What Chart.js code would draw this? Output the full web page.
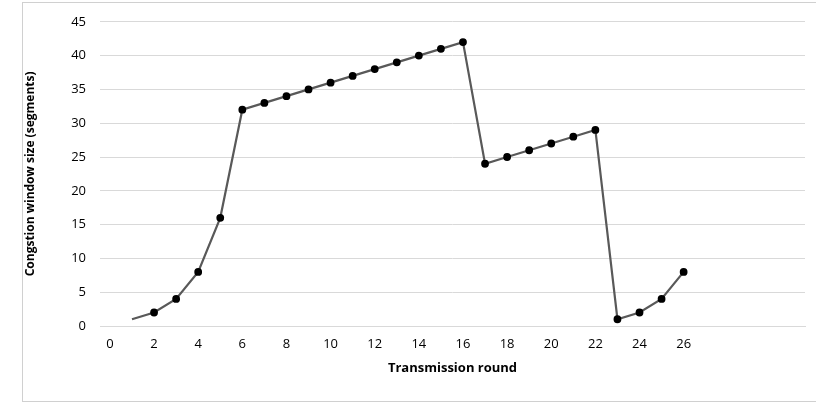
<!DOCTYPE html>
<html><head><meta charset="utf-8">
<script src="https://cdn.jsdelivr.net/npm/chart.js@4"></script>
<style>
html,body{margin:0;padding:0;background:#fff;}
#frame{position:absolute;left:22px;top:2px;width:800px;height:400px;border:1px solid #d0d0d0;box-sizing:border-box;}
#wrap{position:absolute;left:0;top:0;width:816px;height:414px;}
</style></head>
<body>
<div id="frame"></div>
<div id="wrap"><canvas id="c" width="816" height="414"></canvas></div>
<script>
const rounds = [1,2,3,4,5,6,7,8,9,10,11,12,13,14,15,16,17,18,19,20,21,22,23,24,25,26];
const cwnd   = [1,2,4,8,16,32,33,34,35,36,37,38,39,40,41,42,24,25,26,27,28,29,1,2,4,8];
const xTicks = [0,2,4,6,8,10,12,14,16,18,20,22,24,26];
const yTicks = [0,5,10,15,20,25,30,35,40,45];

const font = {family:"'Open Sans', 'Liberation Sans', sans-serif", size:13};
new Chart(document.getElementById('c'), {
  type:'scatter',
  data:{datasets:[{
    data: rounds.map((r,i)=>({x:r,y:cwnd[i]})),
    showLine:true,
    borderColor:'#595959', borderWidth:2.2,
    pointBackgroundColor:'#000', pointBorderColor:'#000',
    pointRadius: ctx => ctx.dataIndex===0 ? 0 : 2.8,
    tension:0
  }]},
  options:{
    responsive:false, animation:false,
    layout:{padding:{left:19,right:11,top:10,bottom:34}},
    plugins:{legend:{display:false},tooltip:{enabled:false}},
    scales:{
      x:{type:'linear', min:-0.45, max:31.5,
        afterBuildTicks: s => { s.ticks = xTicks.map(v=>({value:v})); },
        grid:{display:false, drawTicks:false},
        border:{color:'#d9d9d9'},
        ticks:{color:'#000', font, padding:10, autoSkip:false, maxRotation:0},
        title:{display:true, text:'Transmission round', color:'#000', font:{...font, weight:'bold'}},
        afterFit: s => { s.height = 54; }
      },
      y:{min:0, max:45,
        afterBuildTicks: s => { s.ticks = yTicks.map(v=>({value:v})); },
        grid:{color:'#d9d9d9', drawTicks:false},
        border:{display:false},
        ticks:{color:'#000', font, padding:14},
        title:{display:true, text:'Congstion window size (segments)', color:'#000', font:{...font, size:12, weight:'bold'}},
        afterFit: s => { s.width = 81; }
      }
    }
  }
});
</script>
</body></html>
